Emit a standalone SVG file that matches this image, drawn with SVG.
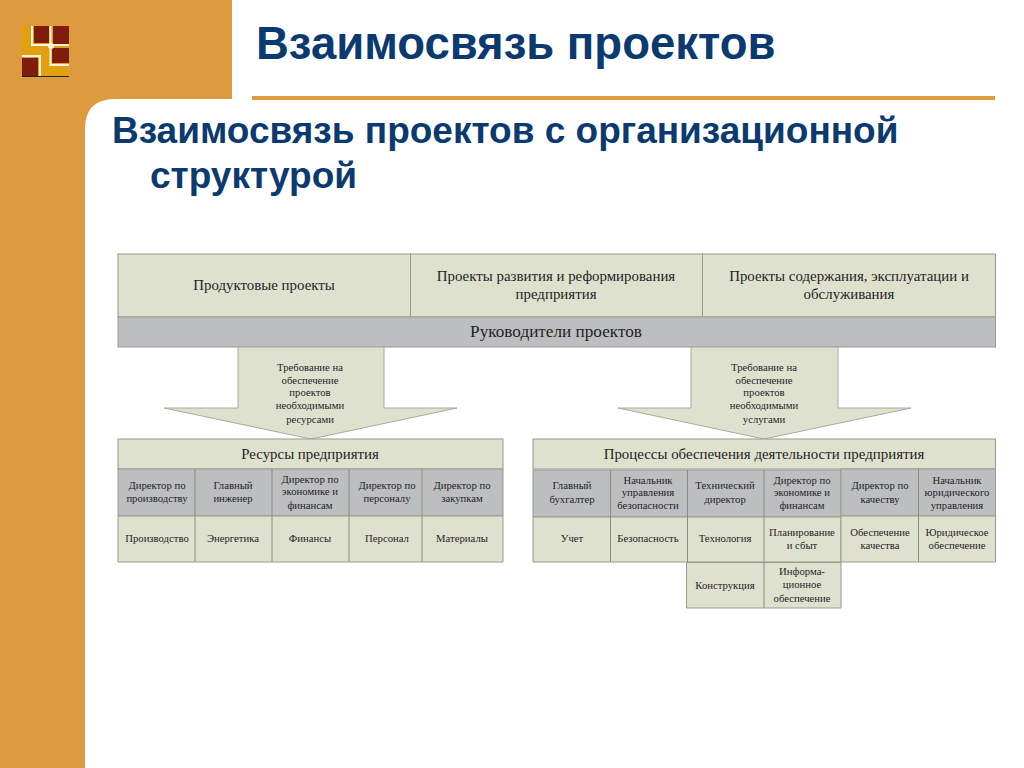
<svg xmlns="http://www.w3.org/2000/svg" width="1024" height="768" viewBox="0 0 1024 768">
<style>
.h{font-family:"Liberation Sans",Arial,sans-serif;font-weight:700;fill:#0b3a70}
.t{font-family:"Liberation Serif","Times New Roman",serif;fill:#1f1f1f;text-anchor:middle}
.a{font-size:14.900px}.b{font-size:17.200px}.c{font-size:10.700px}
.g{fill:#dfe1cf;stroke:#989a8e;stroke-width:1}
.k{fill:#bdbec0;stroke:#989a8e;stroke-width:1}
.m{fill:#7f1d0a}
</style>
<g id="background">
<rect width="1024" height="768" fill="#fff"/>
<path d="M0 0H232V99H115Q85 99 85 129V768H0Z" fill="#de9a3e"/>
<rect x="252" y="96" width="743" height="4" fill="#de9a3e"/>
</g>
<g id="logo">
<rect x="22" y="26" width="47" height="51" fill="#e0a010"/>
<rect x="34" y="26" width="15" height="17" class="m"/>
<rect x="53" y="26" width="16" height="19" class="m"/>
<rect x="52" y="48" width="17" height="15" class="m"/>
<rect x="22" y="58" width="16" height="18" class="m"/>
<path d="M32 26V45H69M50.500 26V65H69M22 56H40V77" fill="none" stroke="#fff5dc" stroke-width="2"/>
<circle cx="51" cy="46" r="3" fill="#fff5dc"/>
<path d="M22 76.500H69" stroke="#222" stroke-width="1"/>
</g>
<g id="titles">
<text class="h" x="256" y="59" font-size="45.500">Взаимосвязь проектов</text>
<text class="h" x="112" y="143" font-size="37">Взаимосвязь проектов с организационной</text>
<text class="h" x="150" y="188" font-size="37">структурой</text>
</g>
<g id="n-top">
<rect class="g" x="118" y="254" width="292.500" height="63"/>
<rect class="g" x="410.500" y="254" width="292" height="63"/>
<rect class="g" x="702.500" y="254" width="293" height="63"/>
<text class="t a" x="264" y="290">Продуктовые проекты</text>
<text class="t a" x="556" y="281">Проекты развития и реформирования</text>
<text class="t a" x="556" y="299">предприятия</text>
<text class="t a" x="849" y="281">Проекты содержания, эксплуатации и</text>
<text class="t a" x="849" y="299">обслуживания</text>
</g>
<g id="n-managers">
<rect class="k" x="118" y="317" width="877.500" height="30"/>
<text class="t b" x="556" y="337">Руководители проектов</text>
</g>
<g id="connectors">
<path d="M238 347H384V408H457L311 439L164 408H238Z" fill="#dfe1cf" stroke="#a8aa9c"/>
<path d="M691 347H838V408H911L764 439L618 408H691Z" fill="#dfe1cf" stroke="#a8aa9c"/>
<g class="t c">
<text x="310" y="371">Требование на</text><text x="310" y="384">обеспечение</text><text x="310" y="396">проектов</text><text x="310" y="409">необходимыми</text><text x="310" y="423">ресурсами</text>
<text x="764" y="371">Требование на</text><text x="764" y="384">обеспечение</text><text x="764" y="396">проектов</text><text x="764" y="409">необходимыми</text><text x="764" y="423">услугами</text>
</g>
</g>
<g id="n-resources">
<rect class="g" x="118" y="439" width="385" height="30"/>
<text class="t a" x="310" y="459">Ресурсы предприятия</text>
<path class="k" d="M118 469H503V516H118Z"/>
<path class="g" d="M118 516H503V562H118Z"/>
<path d="M195 469V562M272 469V562M349 469V562M422 469V562" stroke="#8a8c80" fill="none"/>
<g class="t c">
<text x="157" y="489">Директор по</text><text x="157" y="502">производству</text>
<text x="233" y="489">Главный</text><text x="233" y="502">инженер</text>
<text x="310" y="483">Директор по</text><text x="310" y="495">экономике и</text><text x="310" y="509">финансам</text>
<text x="387" y="489">Директор по</text><text x="387" y="502">персоналу</text>
<text x="462" y="489">Директор по</text><text x="462" y="502">закупкам</text>
<text x="157" y="542">Производство</text><text x="233" y="542">Энергетика</text><text x="310" y="542">Финансы</text><text x="387" y="542">Персонал</text><text x="462" y="542">Материалы</text>
</g>
</g>
<g id="n-processes">
<rect class="g" x="533" y="439" width="462.500" height="30"/>
<text class="t a" x="764" y="459">Процессы обеспечения деятельности предприятия</text>
<path class="k" d="M533 470H841V517H533Z"/>
<path class="k" d="M841 469H995.500V516H841Z"/>
<path class="g" d="M533 517H841V562H533Z"/>
<path class="g" d="M841 516H995.500V562H841Z"/>
<path class="g" d="M686.500 562.500H841V608H686.500Z"/>
<path d="M610.500 470V562M687.500 470V562M764 470V608M918.500 469V562" stroke="#8a8c80" fill="none"/>
<g class="t c">
<text x="572" y="489">Главный</text><text x="572" y="503">бухгалтер</text>
<text x="648" y="484">Начальник</text><text x="648" y="496">управления</text><text x="648" y="509">безопасности</text>
<text x="725" y="489">Технический</text><text x="725" y="503">директор</text>
<text x="802" y="484">Директор по</text><text x="802" y="496">экономике и</text><text x="802" y="509">финансам</text>
<text x="880" y="489">Директор по</text><text x="880" y="503">качеству</text>
<text x="957" y="484">Начальник</text><text x="957" y="496">юридического</text><text x="957" y="509">управления</text>
<text x="572" y="542">Учет</text><text x="648" y="542">Безопасность</text><text x="725" y="542">Технология</text>
<text x="802" y="536">Планирование</text><text x="802" y="549">и сбыт</text>
<text x="880" y="536">Обеспечение</text><text x="880" y="549">качества</text>
<text x="957" y="536">Юридическое</text><text x="957" y="549">обеспечение</text>
<text x="725" y="589">Конструкция</text>
<text x="802" y="575">Информа-</text><text x="802" y="588">ционное</text><text x="802" y="602">обеспечение</text>
</g>
</g>
</svg>
